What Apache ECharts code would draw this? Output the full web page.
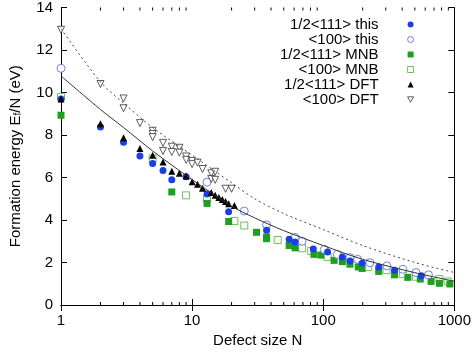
<!DOCTYPE html>
<html>
<head>
<meta charset="utf-8">
<script src="https://cdn.jsdelivr.net/npm/echarts@6/dist/echarts.min.js"></script>
<style>
	html, body { margin: 0; padding: 0; background: #fff; }
	#chart { width: 474px; height: 353px; }
</style>
</head>
<body>
<div id="chart"></div>
<script>
// 1/2<111> this
var n111This = [1, 2, 3, 4, 5, 6, 7, 9, 13, 19, 37, 55, 61, 84, 108, 140, 160, 198, 265, 350, 560];
var e111This = [9.7, 8.38, 7.66, 7.01, 6.66, 6.33, 5.89, 6.03, 5.22, 4.39, 3.52, 3.1, 2.96, 2.64, 2.5, 2.26, 2.07, 1.96, 1.79, 1.64, 1.38];
// <100> this
var n100This = [1, 13, 25, 37, 61, 69, 102, 128, 160, 183, 227, 306, 405, 510, 635];
var e100This = [11.14, 5.78, 4.42, 3.77, 3.18, 3.0, 2.61, 2.38, 2.23, 2.15, 1.99, 1.84, 1.68, 1.53, 1.42];
// 1/2<111> MNB
var n111Mnb = [1, 7, 13, 19, 31, 37, 37, 55, 61, 85, 96, 121, 140, 160, 185, 198, 265, 350, 442, 550, 665, 770, 925];
var e111Mnb = [8.93, 5.32, 4.78, 3.93, 3.42, 3.2, 3.12, 2.8, 2.69, 2.38, 2.35, 2.1, 2.04, 1.92, 1.79, 1.72, 1.58, 1.42, 1.3, 1.22, 1.11, 1.02, 0.99];
// <100> MNB
var n100Mnb = [1, 5, 9, 13, 21, 25, 45, 69, 81, 108, 220, 304, 405, 510, 770, 890];
var e100Mnb = [9.8, 6.9, 5.16, 5.0, 3.95, 3.74, 3.06, 2.67, 2.54, 2.26, 1.79, 1.64, 1.45, 1.33, 1.22, 1.11];
// 1/2<111> DFT
var n111Dft = [1, 2, 3, 4, 5, 6, 7, 8, 9, 10, 11, 12, 14, 15, 16, 17, 18, 19, 21];
var e111Dft = [9.7, 8.53, 7.87, 7.36, 7.05, 6.73, 6.3, 6.2, 6.07, 5.8, 5.68, 5.5, 5.3, 5.16, 5.06, 4.96, 4.87, 4.76, 4.68];
// <100> DFT
var n100Dft = [1, 2, 3, 3, 4, 5, 5, 5, 6, 6, 7, 7, 8, 8, 9, 9, 10, 10, 11, 12, 14, 14, 15, 15, 18, 20];
var e100Dft = [12.95, 10.4, 9.72, 9.26, 8.56, 8.2, 8.05, 7.9, 7.63, 7.25, 7.45, 7.2, 7.4, 7.17, 6.99, 6.83, 6.78, 6.63, 6.7, 6.4, 6.2, 5.93, 6.27, 5.89, 5.47, 5.47];

// fit curves
var fitN = [1, 2, 3, 5, 10, 20, 30, 50, 100, 200, 500, 1000];
var fit111 = [10.78, 9.2, 8.35, 7.25, 5.9, 4.65, 4.1, 3.5, 2.8, 2.15, 1.52, 1.12];
var fit100 = [13.0, 10.5, 9.5, 8.35, 7.05, 5.75, 5.0, 4.3, 3.55, 2.8, 2.0, 1.53];

var decades = [1, 10, 100];

function zip(a, b) {
	return a.map(function (v, i) {
		return [v, b[i]];
	});
}

var minorTicks = [];
decades.forEach(function (d) {
	for (var k = 2; k <= 9; k++) minorTicks.push([d * k, 0]);
});

var font = "Liberation Sans";
var downTri = "path://M0,0L10,0L5,9Z";

// hollow markers: white fill, thin coloured outline
function openStyle(color) {
	return { color: "#fff", borderColor: color, borderWidth: 0.8, opacity: 1 };
}

function scatter(name, n, e, symbol, style, size) {
	return {
		name: name,
		type: "scatter",
		data: zip(n, e),
		symbol: symbol,
		symbolSize: size,
		itemStyle: style,
		emphasis: { disabled: true }
	};
}

var myChart = echarts.init(document.getElementById("chart"), null, { renderer: "canvas" });

var axisCommon = {
	axisLine: { show: true, lineStyle: { color: "#000", width: 1 } },
	axisTick: { show: true, inside: true, length: 6, lineStyle: { color: "#000" } },
	splitLine: { show: false }
};

var option = {
	animation: false,
	textStyle: { fontFamily: font },
	grid: { left: 59, right: 19, top: 6, bottom: 45 },
	legend: {
		orient: "vertical",
		right: 55,
		top: 12,
		align: "right",
		itemGap: 0,
		itemWidth: 6,
		itemHeight: 6,
		textStyle: { fontSize: 15, color: "#000", lineHeight: 15, padding: [0, 24, 0, 0] },
		data: [
			{ name: "1/2<111> this", icon: "circle" },
			{ name: "<100> this", icon: "circle", itemStyle: openStyle("#4a63e0") },
			{ name: "1/2<111> MNB", icon: "rect" },
			{ name: "<100> MNB", icon: "rect", itemStyle: openStyle("#4caf3c") },
			{ name: "1/2<111> DFT", icon: "triangle" },
			{ name: "<100> DFT", icon: downTri, itemStyle: openStyle("#333") }
		]
	},
	xAxis: [
		Object.assign({
			type: "log",
			logBase: 10,
			min: 1,
			max: 1000,
			name: "Defect size N",
			nameLocation: "middle",
			nameGap: 28,
			nameTextStyle: { fontSize: 15, color: "#000" },
			axisLabel: {
				fontSize: 15,
				color: "#000",
				margin: 8,
				formatter: function (v) {
					return String(Math.round(v));
				}
			}
		}, axisCommon),
		Object.assign({
			type: "log",
			logBase: 10,
			min: 1,
			max: 1000,
			position: "top",
			axisLabel: { show: false }
		}, axisCommon)
	],
	yAxis: [
		Object.assign({
			type: "value",
			min: 0,
			max: 14,
			interval: 2,
			name: "Formation energy E{sub|f}/N (eV)",
			nameLocation: "middle",
			nameGap: 38,
			nameTextStyle: {
				fontSize: 15,
				color: "#000",
				rich: { sub: { fontSize: 10, verticalAlign: "bottom", color: "#000" } }
			},
			axisLabel: { fontSize: 15, color: "#000", margin: 8 }
		}, axisCommon),
		Object.assign({
			type: "value",
			min: 0,
			max: 14,
			interval: 2,
			position: "right",
			axisLabel: { show: false }
		}, axisCommon)
	],
	series: [
		{
			type: "custom",
			silent: true,
			clip: false,
			data: minorTicks,
			renderItem: function (params, api) {
				var b = api.coord([api.value(0), 0]);
				var t = api.coord([api.value(0), 14]);
				return {
					type: "group",
					children: [
						{ type: "line", shape: { x1: b[0], y1: b[1], x2: b[0], y2: b[1] - 3 }, style: { stroke: "#000", lineWidth: 1 } },
						{ type: "line", shape: { x1: t[0], y1: t[1], x2: t[0], y2: t[1] + 3 }, style: { stroke: "#000", lineWidth: 1 } }
					]
				};
			}
		},
		{
			type: "line",
			data: zip(fitN, fit111),
			smooth: 0.3,
			showSymbol: false,
			silent: true,
			lineStyle: { color: "#333", width: 1 }
		},
		{
			type: "line",
			data: zip(fitN, fit100),
			smooth: 0.3,
			showSymbol: false,
			silent: true,
			lineStyle: { color: "#444", width: 1, type: [2, 3] }
		},
		scatter("<100> MNB", n100Mnb, e100Mnb, "rect", openStyle("#4caf3c"), 7),
		scatter("1/2<111> MNB", n111Mnb, e111Mnb, "rect", { color: "#1f9e1f", opacity: 1 }, 7),
		scatter("<100> this", n100This, e100This, "circle", openStyle("#4a63e0"), 8),
		scatter("1/2<111> this", n111This, e111This, "circle", { color: "#1b3fe6", opacity: 1 }, 7),
		scatter("1/2<111> DFT", n111Dft, e111Dft, "triangle", { color: "#000", opacity: 1 }, 7),
		scatter("<100> DFT", n100Dft, e100Dft, downTri, openStyle("#333"), 7)
	]
};
myChart.setOption(option);
window.addEventListener("resize", myChart.resize);
</script>
</body>
</html>
